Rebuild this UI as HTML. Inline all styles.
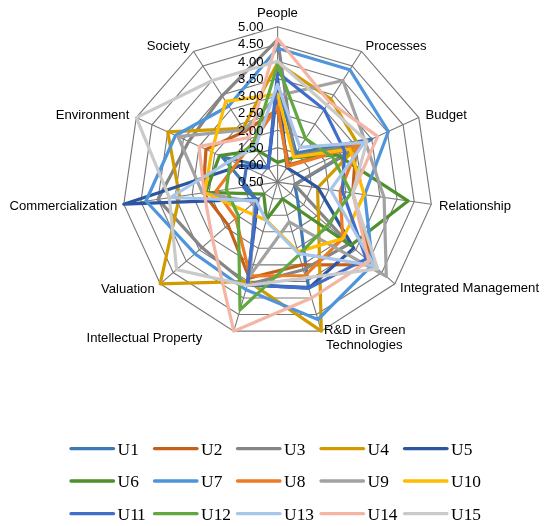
<!DOCTYPE html>
<html><head><meta charset="utf-8"><title>Radar chart</title>
<style>html,body{margin:0;padding:0;background:#fff}body{width:550px;height:526px;position:relative;overflow:hidden}</style>
</head><body>
<svg width="550" height="526" viewBox="0 0 550 526" style="position:absolute;left:0;top:0">
<g fill="none" stroke="#787878" stroke-width="1.1">
<polygon points="277.6,164.8 286.9,167.6 293.2,174.9 294.6,184.6 290.6,193.4 282.4,198.7 272.7,198.7 264.5,193.4 260.5,184.6 261.9,174.9 268.2,167.6"/>
<polygon points="277.6,147.6 296.2,153.1 308.9,167.8 311.7,187.0 303.6,204.7 287.3,215.2 267.8,215.2 251.5,204.7 243.4,187.0 246.2,167.8 258.9,153.1"/>
<polygon points="277.6,130.3 305.5,138.6 324.6,160.6 328.8,189.5 316.7,216.0 292.1,231.8 263.0,231.8 238.4,216.0 226.3,189.5 230.5,160.6 249.6,138.6"/>
<polygon points="277.6,113.1 314.9,124.0 340.3,153.4 345.9,191.9 329.7,227.3 297.0,248.3 258.1,248.3 225.4,227.3 209.2,191.9 214.8,153.4 240.2,124.0"/>
<polygon points="277.6,95.8 324.2,109.5 356.0,146.3 362.9,194.4 342.8,238.6 301.9,264.9 253.2,264.9 212.3,238.6 192.2,194.4 199.1,146.3 230.9,109.5"/>
<polygon points="277.6,78.6 333.5,95.0 371.7,139.1 380.0,196.8 355.8,249.9 306.7,281.4 248.4,281.4 199.3,249.9 175.1,196.8 183.4,139.1 221.6,95.0"/>
<polygon points="277.6,61.3 342.9,80.5 387.4,131.9 397.1,199.3 368.8,261.2 311.6,298.0 243.5,298.0 186.3,261.2 158.0,199.3 167.7,131.9 212.2,80.5"/>
<polygon points="277.6,44.1 352.2,66.0 403.1,124.8 414.2,201.7 381.9,272.5 316.4,314.5 238.7,314.5 173.2,272.5 140.9,201.7 152.0,124.8 202.9,66.0"/>
<polygon points="277.6,26.8 361.5,51.5 418.8,117.6 431.3,204.2 394.9,283.8 321.3,331.1 233.8,331.1 160.2,283.8 123.8,204.2 136.3,117.6 193.6,51.5"/>
<line x1="277.6" y1="182.1" x2="277.6" y2="26.8"/>
<line x1="277.6" y1="182.1" x2="361.5" y2="51.5"/>
<line x1="277.6" y1="182.1" x2="418.8" y2="117.6"/>
<line x1="277.6" y1="182.1" x2="431.3" y2="204.2"/>
<line x1="277.6" y1="182.1" x2="394.9" y2="283.8"/>
<line x1="277.6" y1="182.1" x2="321.3" y2="331.1"/>
<line x1="277.6" y1="182.1" x2="233.8" y2="331.1"/>
<line x1="277.6" y1="182.1" x2="160.2" y2="283.8"/>
<line x1="277.6" y1="182.1" x2="123.8" y2="204.2"/>
<line x1="277.6" y1="182.1" x2="136.3" y2="117.6"/>
<line x1="277.6" y1="182.1" x2="193.6" y2="51.5"/>
</g>
<g fill="none" stroke-width="3.2" stroke-linejoin="round" stroke-linecap="round">
<polygon points="277.6,83.7 296.2,153.1 371.7,139.1 294.6,184.6 297.6,199.5 308.5,287.4 247.4,284.7 256.7,200.2 246.8,186.5 222.0,156.7 268.2,167.6" stroke="#3F79B3"/>
<polygon points="277.6,109.6 288.7,164.7 356.0,146.3 352.7,192.9 372.7,264.6 301.9,264.9 249.4,278.1 228.0,225.0 203.1,192.8 206.0,149.4 244.9,131.3" stroke="#C4601A"/>
<polygon points="277.6,39.6 294.3,156.0 362.3,143.4 294.6,184.6 349.0,244.0 303.3,269.8 247.4,284.7 201.9,247.6 158.0,199.3 188.7,141.5 222.1,95.9" stroke="#858585"/>
<polygon points="277.6,63.0 330.9,99.1 358.5,145.1 317.5,187.8 318.5,217.6 321.3,331.1 248.4,281.4 160.2,283.8 179.5,196.2 167.7,131.9 243.0,128.4" stroke="#D19B00"/>
<polygon points="277.6,78.6 286.9,167.6 296.4,173.5 318.2,187.9 353.7,248.1 308.7,288.1 247.4,284.7 258.0,199.0 123.8,204.2 241.1,165.5 268.2,167.6" stroke="#2C56A0"/>
<polygon points="277.6,162.4 293.2,157.7 337.2,154.9 408.0,200.9 350.6,245.4 282.4,198.7 266.6,219.5 263.7,194.1 205.8,192.4 219.5,155.6 257.0,150.2" stroke="#4F8F2D"/>
<polygon points="277.6,48.2 349.8,69.7 388.4,131.5 364.7,194.6 372.7,264.6 317.9,319.5 246.0,289.7 194.9,253.7 146.0,201.0 175.5,135.5 228.7,106.0" stroke="#4F95DC"/>
<polygon points="277.6,106.2 287.6,166.4 358.5,145.1 340.1,191.1 342.8,238.6 305.0,275.5 250.0,275.8 235.8,218.3 216.1,190.9 236.7,163.5 252.4,142.9" stroke="#EC7B24"/>
<polygon points="277.6,95.8 342.9,80.5 365.4,142.0 384.1,197.4 386.3,276.3 289.2,221.8 250.1,275.5 254.6,202.0 202.4,192.9 178.0,136.7 244.0,129.8" stroke="#A2A2A2"/>
<polygon points="277.6,94.1 293.6,157.1 349.8,149.1 364.3,194.6 342.8,238.6 298.0,251.6 266.4,220.2 244.4,210.8 204.8,192.6 211.6,152.0 225.7,101.4" stroke="#FFBC00"/>
<polygon points="277.6,72.4 324.2,109.5 344.7,151.4 342.5,191.4 366.2,258.9 308.7,288.1 247.4,284.7 256.7,200.2 243.4,187.0 246.2,167.8 268.2,167.6" stroke="#3F6DC8"/>
<polygon points="277.6,64.8 305.5,138.6 332.5,157.0 351.3,192.7 327.4,225.3 298.9,254.9 240.0,309.9 238.4,216.0 226.3,189.5 230.5,160.6 253.3,144.4" stroke="#62A840"/>
<polygon points="277.6,84.4 299.9,147.3 364.5,142.4 330.5,189.7 374.3,265.9 298.5,253.3 266.2,220.8 256.2,200.6 170.3,197.5 230.5,160.6 255.2,147.3" stroke="#A9C5EA"/>
<polygon points="277.6,38.5 329.2,101.7 377.7,136.4 352.7,192.9 368.8,261.2 311.6,298.0 233.8,331.1 212.3,238.6 204.1,192.7 199.1,146.3 249.0,137.7" stroke="#F4B5A5"/>
<polygon points="277.6,61.3 327.0,105.2 367.0,141.2 352.7,192.9 377.7,268.9 305.6,277.8 247.2,285.4 176.6,269.6 169.3,197.7 136.3,117.6 212.2,80.5" stroke="#CACACA"/>
</g>
<g font-family="Liberation Sans, Arial, sans-serif" font-size="13.1" fill="#000" text-anchor="end">
<text x="263.6" y="186.3">0.50</text>
<text x="263.6" y="169.0">1.00</text>
<text x="263.6" y="151.8">1.50</text>
<text x="263.6" y="134.5">2.00</text>
<text x="263.6" y="117.3">2.50</text>
<text x="263.6" y="100.0">3.00</text>
<text x="263.6" y="82.8">3.50</text>
<text x="263.6" y="65.5">4.00</text>
<text x="263.6" y="48.3">4.50</text>
<text x="263.6" y="31.0">5.00</text>
</g>
<g font-family="Liberation Sans, Arial, sans-serif" font-size="13.1" fill="#000">
<text x="277.5" y="16.9" text-anchor="middle">People</text>
<text x="365.5" y="50" text-anchor="start">Processes</text>
<text x="425.5" y="119" text-anchor="start">Budget</text>
<text x="439" y="209.5" text-anchor="start">Relationship</text>
<text x="400" y="292.3" text-anchor="start">Integrated Management</text>
<text x="364.8" y="334" text-anchor="middle">R&amp;D in Green</text>
<text x="364.3" y="349.3" text-anchor="middle">Technologies</text>
<text x="202.3" y="341.5" text-anchor="end">Intellectual Property</text>
<text x="154.7" y="292.6" text-anchor="end">Valuation</text>
<text x="117.2" y="209.7" text-anchor="end">Commercialization</text>
<text x="129.3" y="119" text-anchor="end">Environment</text>
<text x="189.7" y="50" text-anchor="end">Society</text>
</g>
<g font-family="Liberation Serif, Times New Roman, serif" font-size="17.4" fill="#000">
<line x1="71.0" y1="448.6" x2="113.5" y2="448.6" stroke="#3F79B3" stroke-width="3.3" stroke-linecap="round"/>
<text x="117.6" y="454.6">U1</text>
<line x1="154.5" y1="448.6" x2="197.0" y2="448.6" stroke="#C4601A" stroke-width="3.3" stroke-linecap="round"/>
<text x="201.1" y="454.6">U2</text>
<line x1="237.5" y1="448.6" x2="280.0" y2="448.6" stroke="#858585" stroke-width="3.3" stroke-linecap="round"/>
<text x="284.1" y="454.6">U3</text>
<line x1="321.0" y1="448.6" x2="363.5" y2="448.6" stroke="#D19B00" stroke-width="3.3" stroke-linecap="round"/>
<text x="367.6" y="454.6">U4</text>
<line x1="404.5" y1="448.6" x2="447.0" y2="448.6" stroke="#2C56A0" stroke-width="3.3" stroke-linecap="round"/>
<text x="451.1" y="454.6">U5</text>
<line x1="71.0" y1="481.0" x2="113.5" y2="481.0" stroke="#4F8F2D" stroke-width="3.3" stroke-linecap="round"/>
<text x="117.6" y="487.0">U6</text>
<line x1="154.5" y1="481.0" x2="197.0" y2="481.0" stroke="#4F95DC" stroke-width="3.3" stroke-linecap="round"/>
<text x="201.1" y="487.0">U7</text>
<line x1="237.5" y1="481.0" x2="280.0" y2="481.0" stroke="#EC7B24" stroke-width="3.3" stroke-linecap="round"/>
<text x="284.1" y="487.0">U8</text>
<line x1="321.0" y1="481.0" x2="363.5" y2="481.0" stroke="#A2A2A2" stroke-width="3.3" stroke-linecap="round"/>
<text x="367.6" y="487.0">U9</text>
<line x1="404.5" y1="481.0" x2="447.0" y2="481.0" stroke="#FFBC00" stroke-width="3.3" stroke-linecap="round"/>
<text x="451.1" y="487.0">U10</text>
<line x1="71.0" y1="513.7" x2="113.5" y2="513.7" stroke="#3F6DC8" stroke-width="3.3" stroke-linecap="round"/>
<text x="117.6" y="519.7">U1<tspan dx="-1.3">1</tspan></text>
<line x1="154.5" y1="513.7" x2="197.0" y2="513.7" stroke="#62A840" stroke-width="3.3" stroke-linecap="round"/>
<text x="201.1" y="519.7">U12</text>
<line x1="237.5" y1="513.7" x2="280.0" y2="513.7" stroke="#A9C5EA" stroke-width="3.3" stroke-linecap="round"/>
<text x="284.1" y="519.7">U13</text>
<line x1="321.0" y1="513.7" x2="363.5" y2="513.7" stroke="#F4B5A5" stroke-width="3.3" stroke-linecap="round"/>
<text x="367.6" y="519.7">U14</text>
<line x1="404.5" y1="513.7" x2="447.0" y2="513.7" stroke="#CACACA" stroke-width="3.3" stroke-linecap="round"/>
<text x="451.1" y="519.7">U15</text>
</g>
</svg>
</body></html>
